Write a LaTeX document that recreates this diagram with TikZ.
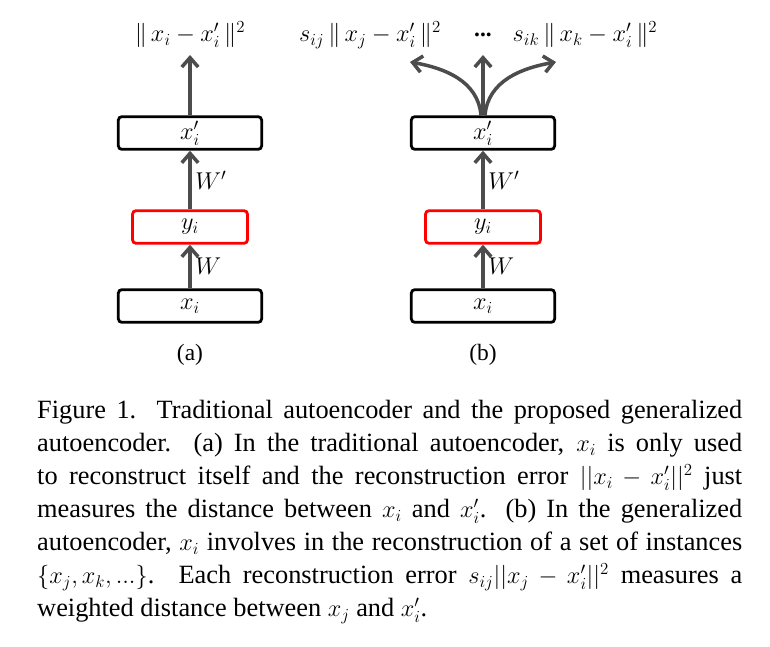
\documentclass[tikz,border=0pt]{standalone}
\usepackage{fontspec}
\setmainfont{Liberation Serif}
\usetikzlibrary{arrows.meta}
\tikzset{
  box/.style={draw=black, line width=2.4pt, rounded corners=3pt, minimum width=4.3cm, minimum height=0.98cm, inner sep=0pt, font=\fontsize{20}{24}\selectfont},
  hid/.style={box, draw=red, minimum width=3.45cm},
  flow/.style={draw=black!70, line width=3pt, -{Straight Barb[length=8pt,width=14pt,line width=3pt]}},
  lbl/.style={font=\fontsize{20}{24}\selectfont, inner sep=1pt}
}
\begin{document}
\begin{tikzpicture}[x=0.03cm,y=-0.03cm]
  \useasboundingbox (0,0) rectangle (770,647);
  % (a) traditional autoencoder
  \node[box] (xa) at (190,306) {$x_i$};
  \node[hid] (ya) at (190,227) {$y_i$};
  \node[box] (oa) at (190,133) {$x'_i$};
  \coordinate (ea) at (190,55);
  \node[lbl] (la) at (190,35) {$\|\, x_i - x'_i \,\|^2$};
  \draw[flow] (xa) -- node[lbl,right=2pt] {$W$} (ya);
  \draw[flow] (ya) -- node[lbl,right=2pt] {$W'$} (oa);
  \draw[flow] (oa) -- (ea);
  \node[lbl] (ca) at (190,355) {(a)};
  % (b) generalized autoencoder
  \node[box] (xb) at (483,306) {$x_i$};
  \node[hid] (yb) at (483,227) {$y_i$};
  \node[box] (ob) at (483,133) {$x'_i$};
  \coordinate (eb) at (483,55);
  \coordinate (ej) at (410,62);
  \coordinate (ek) at (556,62);
  \node[lbl] (lj) at (370,35) {$s_{ij}\,\|\, x_j - x'_i \,\|^2$};
  \node[lbl] (ld) at (483,35) {\textbf{...}};
  \node[lbl] (lk) at (585,35) {$s_{ik}\,\|\, x_k - x'_i \,\|^2$};
  \draw[flow] (xb) -- node[lbl,right=2pt] {$W$} (yb);
  \draw[flow] (yb) -- node[lbl,right=2pt] {$W'$} (ob);
  \draw[flow] (ob) -- (eb);
  \draw[flow] (ob.north) ++(-2,0) to[out=95,in=-10] (ej);
  \draw[flow] (ob.north) ++(2,0) to[out=85,in=190] (ek);
  \node[lbl] (cb) at (483,355) {(b)};
  % caption
  \node[anchor=north west, inner sep=0pt, text width=21.15cm, align=justify,
        font=\fontsize{22.5}{28.2}\selectfont] (cap) at (37,400)
  {Figure 1. Traditional autoencoder and the proposed generalized\linebreak
  autoencoder. (a) In the traditional autoencoder, $x_i$ is only used\linebreak
  to reconstruct itself and the reconstruction error $||x_i - x'_i||^2$ just\linebreak
  measures the distance between $x_i$ and $x'_i$. (b) In the generalized\linebreak
  autoencoder, $x_i$ involves in the reconstruction of a set of instances\linebreak
  $\{x_j, x_k, ...\}$. Each reconstruction error $s_{ij}||x_j - x'_i||^2$ measures a\linebreak
  weighted distance between $x_j$ and $x'_i$.\par};
\end{tikzpicture}
\end{document}
